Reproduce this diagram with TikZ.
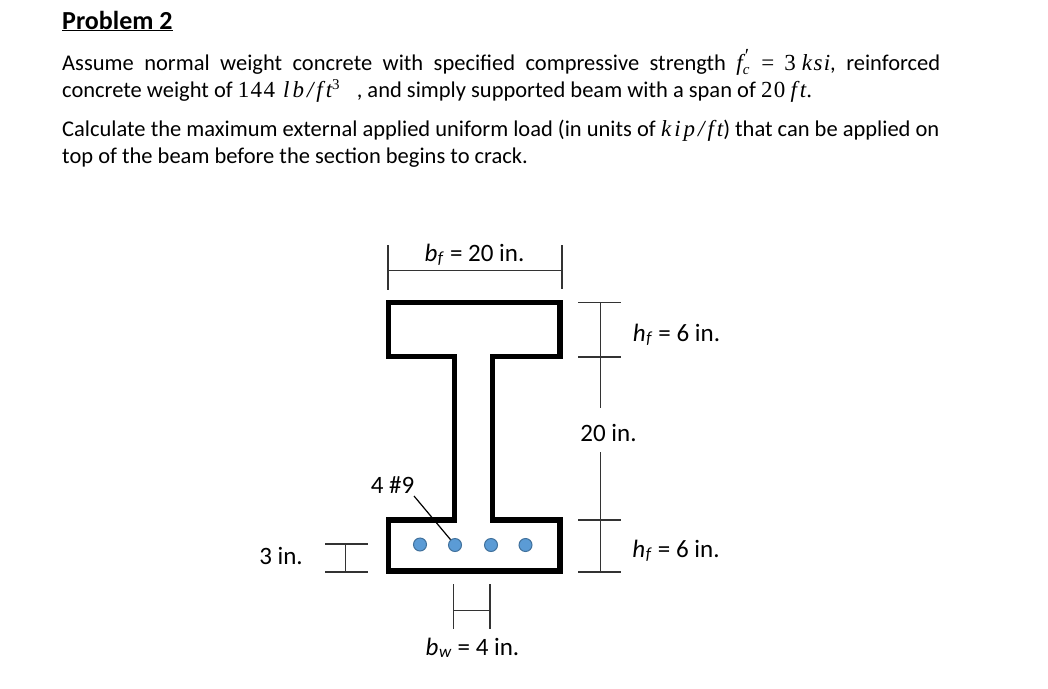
\documentclass[tikz,border=0pt]{standalone}
\usepackage{fontspec}
\setmainfont{Carlito}
\newfontfamily\serifmath[LetterSpace=6]{Liberation Serif}
\newfontfamily\serifwide[LetterSpace=13]{Liberation Serif}
\newcommand{\qrm}[1]{{\serifmath\fontsize{23}{27}\selectfont #1}}
\newcommand{\qit}[1]{{\serifmath\itshape\fontsize{23}{27}\selectfont #1}}
\newcommand{\qwd}[1]{{\serifwide\itshape\fontsize{23}{27}\selectfont #1}}
\newcommand{\subl}[2]{\textit{#1}\raisebox{-2.5pt}{\fontsize{17}{17}\selectfont\kern0.5pt\textit{#2}\kern0.5pt}}
\tikzset{x=1pt,y=-1pt,
  para/.style={anchor=base west,inner sep=0pt,font=\fontsize{22.5}{27}\selectfont},
  lab/.style={anchor=base,inner sep=0pt,font=\fontsize{25}{28}\selectfont},
  beam/.style={line width=5.4pt,miter limit=10,line join=miter},
  dimline/.style={line width=1.1pt,draw=black!80},
  bar/.style={circle,minimum size=13pt,inner sep=0pt,fill=barfill,draw=barline,line width=1pt},
  leader/.style={line width=1.2pt,black}}
\definecolor{barfill}{HTML}{5B9BD5}
\definecolor{barline}{HTML}{41719C}
\begin{document}
\begin{tikzpicture}
\useasboundingbox (0,0) rectangle (1048,688);
\fill[white] (0,0) rectangle (1048,688);
% text
\node[para,font=\fontsize{26}{27}\bfseries\selectfont] (title) at (62,29) {\underline{Problem 2}};
\node[para] (l1) at (62,70) {\makebox[878pt][s]{Assume normal weight concrete with specified compressive strength \mbox{\qit{f}\rlap{\raisebox{8pt}{\qrm{\fontsize{20}{20}\selectfont\kern2pt\char"2032}}}\raisebox{-4pt}{\qit{\fontsize{15}{15}\selectfont c}}\kern12pt\qrm{=}\kern10pt\qrm{3}\kern6pt\qit{ksi},} reinforced}};
\node[para] (l2) at (62,97) {concrete weight of \qrm{144}\kern3pt\ \qwd{lb/ft}\raisebox{8pt}{\qrm{\fontsize{15}{15}\selectfont 3}}\kern12pt\ , and simply supported beam with a span of \qrm{20}\ \qwd{ft}\qrm{.}};
\node[para] (l3) at (62,136) {Calculate the maximum external applied uniform load (in units of \qwd{kip/ft}) that can be applied on};
\node[para] (l4) at (62,163) {top of the beam before the section begins to crack.};
% section
\draw[beam] (388.5,302.5) -- (560,302.5) -- (560,356.5) -- (492.5,356.5) -- (492.5,520) -- (560,520) -- (560,571) -- (388.5,571) -- (388.5,520) -- (454.5,520) -- (454.5,356.5) -- (388.5,356.5) -- cycle;
% bars
\node[bar] (b1) at (420,544.5) {};
\node[bar] (b2) at (455,545) {};
\node[bar] (b3) at (491,545) {};
\node[bar] (b4) at (525.5,545) {};
\node[lab] (n49) at (392.5,493) {4 \#9};
\coordinate (ls) at (414,496);
\draw[leader] (ls) -- (b2);
% bf
\coordinate (bfa) at (388,245); \coordinate (bfb) at (388,290);
\coordinate (bfc) at (562,245); \coordinate (bfd) at (562,289);
\coordinate (bfm) at (388,270.7); \coordinate (bfn) at (562,270.7);
\draw[dimline] (bfa) -- (bfb); \draw[dimline] (bfc) -- (bfd); \draw[dimline] (bfm) -- (bfn);
\node[lab] (bf) at (474.5,261) {\subl{b}{f} = 20 in.};
% right heights
\coordinate (t1) at (578,302.5); \coordinate (t1e) at (621,302.5);
\coordinate (t2) at (578,357); \coordinate (t2e) at (621,357);
\coordinate (t3) at (578,520); \coordinate (t3e) at (621,520);
\coordinate (t4) at (578,572); \coordinate (t4e) at (621,572);
\coordinate (v1) at (600.5,302.5); \coordinate (v4) at (600.5,572);
\draw[dimline] (t1) -- (t1e); \draw[dimline] (t2) -- (t2e); \draw[dimline] (t3) -- (t3e); \draw[dimline] (t4) -- (t4e);
\node[lab] (h20) at (608.5,441) {20 in.};
\draw[dimline] (v1) -- (600.5,408);
\draw[dimline] (600.5,452) -- (v4);
\node[lab] (hf1) at (676.5,341) {\subl{h}{f} = 6 in.};
\node[lab] (hf2) at (676,557) {\subl{h}{f} = 6 in.};
% 3 in
\coordinate (c1) at (325,544); \coordinate (c1e) at (368,544);
\coordinate (c2) at (325,572); \coordinate (c2e) at (368,572);
\coordinate (c1m) at (345.7,544); \coordinate (c2m) at (345.7,572);
\draw[dimline] (c1) -- (c1e); \draw[dimline] (c2) -- (c2e); \draw[dimline] (c1m) -- (c2m);
\node[lab] (in3) at (281,564) {3 in.};
% bw
\coordinate (w1) at (453.3,584); \coordinate (w1e) at (453.3,629);
\coordinate (w2) at (490,584); \coordinate (w2e) at (490,629);
\coordinate (wm) at (453.3,610.7); \coordinate (wn) at (490,610.7);
\draw[dimline] (w1) -- (w1e); \draw[dimline] (w2) -- (w2e); \draw[dimline] (wm) -- (wn);
\node[lab] (bw) at (472.5,655) {\subl{b}{w} = 4 in.};
\end{tikzpicture}
\end{document}
